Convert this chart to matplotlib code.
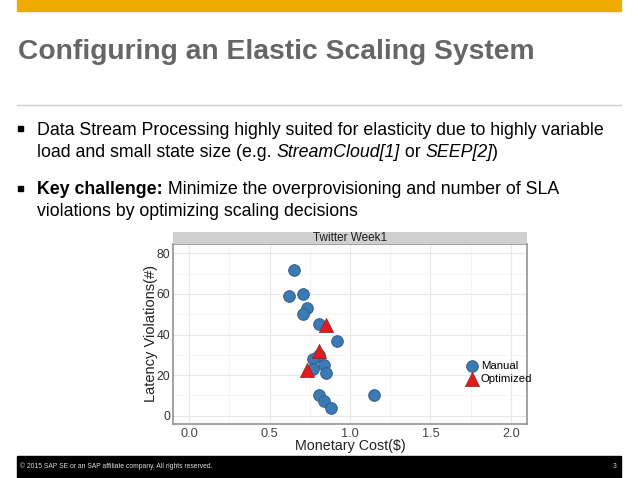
import matplotlib
matplotlib.use("Agg")
import matplotlib.pyplot as plt
from matplotlib.patches import Rectangle
from matplotlib.ticker import MultipleLocator

plt.rcParams['font.family'] = ['Liberation Sans', 'DejaVu Sans']

# values
manual_cost = [0.65, 0.62, 0.71, 0.73, 0.71, 0.81, 0.92, 0.81, 0.77, 0.77, 0.84, 0.85, 0.81, 0.84, 0.88, 1.15]
manual_viol = [72, 59, 60, 53, 50, 45, 37, 30, 28, 23, 25, 21, 10, 7, 4, 10]
optimized_cost = [0.85, 0.81, 0.73]
optimized_viol = [44.5, 32, 22.5]
x_ticks = [0.0, 0.5, 1.0, 1.5, 2.0]
y_ticks = [0, 20, 40, 60, 80]

W, H = 638, 478
fig = plt.figure(figsize=(W / 100, H / 100), dpi=100, facecolor='white')

# whole slide in pixel coordinates
bg = fig.add_axes([0, 0, 1, 1])
bg.set_xlim(0, W)
bg.set_ylim(H, 0)
bg.axis('off')

bg.add_patch(Rectangle((17, 0), 604, 11, color='#f0ab00'))
bg.add_patch(Rectangle((17, 456), 604, 22, color='black'))
bg.plot([17, 621], [105, 105], color='#cccccc', lw=1)

bg.text(17.5, 51.5, 'Configuring an Elastic Scaling System', fontsize=20.3, fontweight='bold',
        color='#666666', va='center')


def runs(x, y, parts, size=12.8):
    # put text pieces one after the other on the same line
    r = fig.canvas.get_renderer()
    for s, kw in parts:
        t = bg.text(x, y, s, fontsize=size, color='black', va='baseline', **kw)
        x += t.get_window_extent(r).width


bg.add_patch(Rectangle((18, 126), 5, 5, color='black'))
bg.add_patch(Rectangle((18, 186), 5, 5, color='black'))
runs(37, 135, [('Data Stream Processing highly suited for elasticity due to highly variable', {})])
runs(37, 157, [('load and small state size (e.g.\u00a0', {}), ('StreamCloud[1]', {'style': 'italic'}),
               ('\u00a0or\u00a0', {}), ('SEEP[2]', {'style': 'italic'}), (')', {})])
runs(37, 194, [('Key challenge:', {'fontweight': 'bold'}),
               ('\u00a0Minimize the overprovisioning and number of SLA', {})])
runs(37, 216, [('violations by optimizing scaling decisions', {})])

bg.text(20, 466, '\u00a9 2015 SAP SE or an SAP affiliate company. All rights reserved.',
        fontsize=4.9, color='#dddddd', va='center')
bg.text(616, 466, '3', fontsize=4.9, color='#dddddd', va='center', ha='right')

# chart panel
ax = fig.add_axes([173 / W, 1 - 424 / H, 354 / W, 180 / H])
ax.set_xlim(-0.10, 2.10)
ax.set_ylim(-4.1, 84.6)
ax.xaxis.set_minor_locator(MultipleLocator(0.25))
ax.yaxis.set_minor_locator(MultipleLocator(10))
ax.grid(True, which='major', color='#e8e8e8', lw=0.9)
ax.grid(True, which='minor', color='#f4f4f4', lw=0.6)
ax.set_axisbelow(True)
for sp in ax.spines.values():
    sp.set_color('#8a8a8a')
    sp.set_linewidth(1.1)
ax.tick_params(which='both', length=0)
ax.set_xticks(x_ticks)
ax.set_xticklabels(['%.1f' % v for v in x_ticks], fontsize=9.2, color='#444444')
ax.set_yticks(y_ticks)
ax.set_yticklabels([str(v) for v in y_ticks], fontsize=8.7, color='#333333')
ax.tick_params(axis='x', pad=3)
ax.tick_params(axis='y', pad=2)
ax.set_xlabel('Monetary Cost($)', fontsize=10.3, color='#222222', labelpad=-1)
ax.set_ylabel('Latency Violations(#)', fontsize=10.5, color='#222222', labelpad=-1)

ax.scatter(manual_cost, manual_viol, s=70, c='#3a7ab5', edgecolors='#335f85', linewidths=0.7,
           label='Manual', zorder=3, clip_on=False)
ax.scatter(optimized_cost, optimized_viol, s=105, marker='^', c='#e3191c', edgecolors='#8a2a2a',
           linewidths=0.5, label='Optimized', zorder=4, clip_on=False)

leg = ax.legend(loc='center left', bbox_to_anchor=(461 / W, 1 - 372.5 / H), bbox_transform=fig.transFigure,
                frameon=False, fontsize=8.2, handletextpad=-0.25, labelspacing=0.2,
                borderpad=0, borderaxespad=0)
leg.set_zorder(5)

# strip above the panel
strip = fig.add_axes([173 / W, 1 - 244 / H, 354 / W, 12 / H], facecolor='#cfcfcf')
strip.set_xticks([])
strip.set_yticks([])
for sp in strip.spines.values():
    sp.set_visible(False)
strip.text(0.5, 0.47, 'Twitter Week1', transform=strip.transAxes, ha='center', va='center',
           fontsize=8.5, color='#222222')

fig.savefig('out.png', dpi=100)
